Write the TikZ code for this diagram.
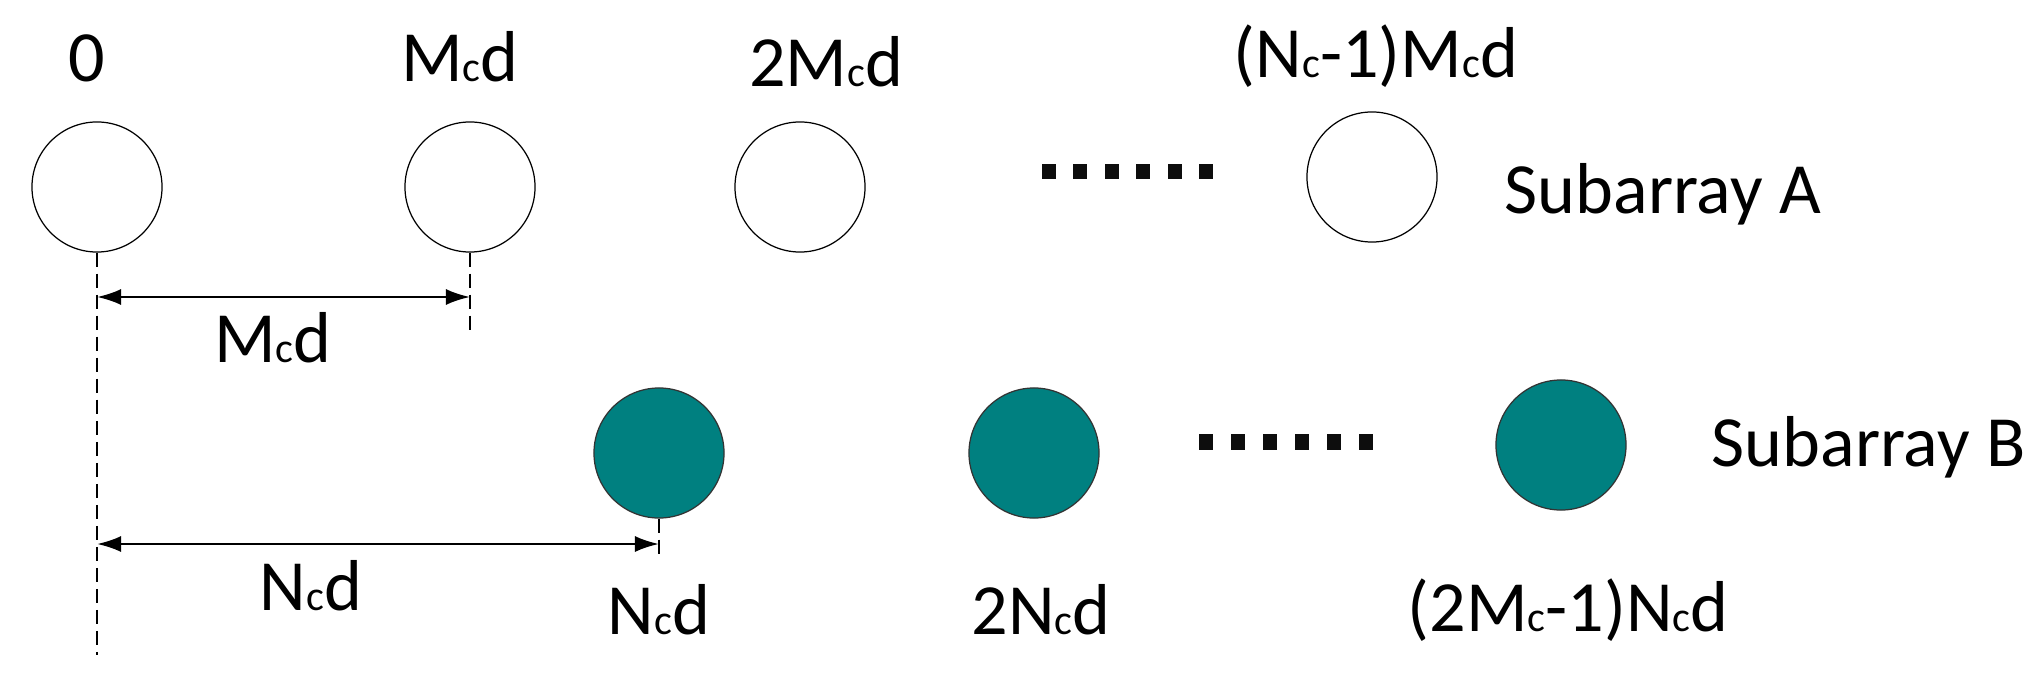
\documentclass[tikz,border=0pt]{standalone}
\usepackage{fontspec}
\setmainfont{Carlito}
\usetikzlibrary{arrows.meta, positioning}
\definecolor{elemteal}{RGB}{0,128,128}
\newcommand{\subc}{{\fontsize{12pt}{12pt}\selectfont c}}

\begin{document}
\begin{tikzpicture}[x=0.01cm, y=-0.01cm,
    font=\fontsize{20.5pt}{24pt}\selectfont,
    elemA/.style={circle, draw=black, line width=0.35pt, fill=white, minimum size=1.3cm, inner sep=0pt},
    elemB/.style={circle, draw=black!80, line width=0.35pt, fill=elemteal, minimum size=1.3cm, inner sep=0pt},
    lbl/.style={anchor=base, inner sep=0pt},
    guide/.style={line width=0.7pt, dash pattern=on 0.14cm off 0.07cm},
    dim/.style={line width=0.7pt, {Latex[length=0.24cm,width=0.16cm]}-{Latex[length=0.24cm,width=0.16cm]}},
    dotsq/.style={fill=black!95, minimum width=0.14cm, minimum height=0.15cm, inner sep=0pt}]
  \useasboundingbox (0,0) rectangle (2030,685);
  % subarray A
  \node[elemA] (a0) at (97,187) {};
  \node[elemA] (a1) at (470,187) {};
  \node[elemA] (a2) at (800,187) {};
  \node[elemA] (a3) at (1372,177) {};
  \foreach \i in {0,...,5}
    \node[dotsq] (da\i) at ({1049+31.4*\i},171.5) {};
  \node[lbl] (la0) at (87,82) {0};
  \node[lbl] (la1) at (460,82) {M\subc d};
  \node[lbl] (la2) at (826,87) {2M\subc d};
  \node[lbl] (la3) at (1376,78) {(N\subc-1)M\subc d};
  \node[lbl, anchor=base west] (sa) at (1504,214) {Subarray A};
  % subarray B
  \node[elemB] (b1) at (659,453) {};
  \node[elemB] (b2) at (1034,453) {};
  \node[elemB] (b3) at (1561,445) {};
  \foreach \i in {0,...,5}
    \node[dotsq] (db\i) at ({1206+32*\i},442) {};
  \node[lbl, anchor=base west] (lb1) at (607,634) {N\subc d};
  \node[lbl] (lb2) at (1041,634) {2N\subc d};
  \node[lbl] (lb3) at (1568,631) {(2M\subc-1)N\subc d};
  \node[lbl, anchor=base west] (sb) at (1711,466) {Subarray B};
  % spacings
  \coordinate (g0) at (97,655);
  \coordinate (g1) at (470,332);
  \coordinate (g2) at (659,558);
  \draw[guide] (a0.south) -- (g0);
  \draw[guide] (a1.south) -- (g1);
  \draw[guide] (b1.south) -- (g2);
  \coordinate (m0) at (97,297);
  \coordinate (m1) at (470,297);
  \coordinate (n0) at (97,544);
  \coordinate (n1) at (659,544);
  \draw[dim] (m0) -- (m1);
  \draw[dim] (n0) -- (n1);
  \node[lbl] (lm) at (273,363) {M\subc d};
  \node[lbl] (ln) at (311,610) {N\subc d};
\end{tikzpicture}
\end{document}
